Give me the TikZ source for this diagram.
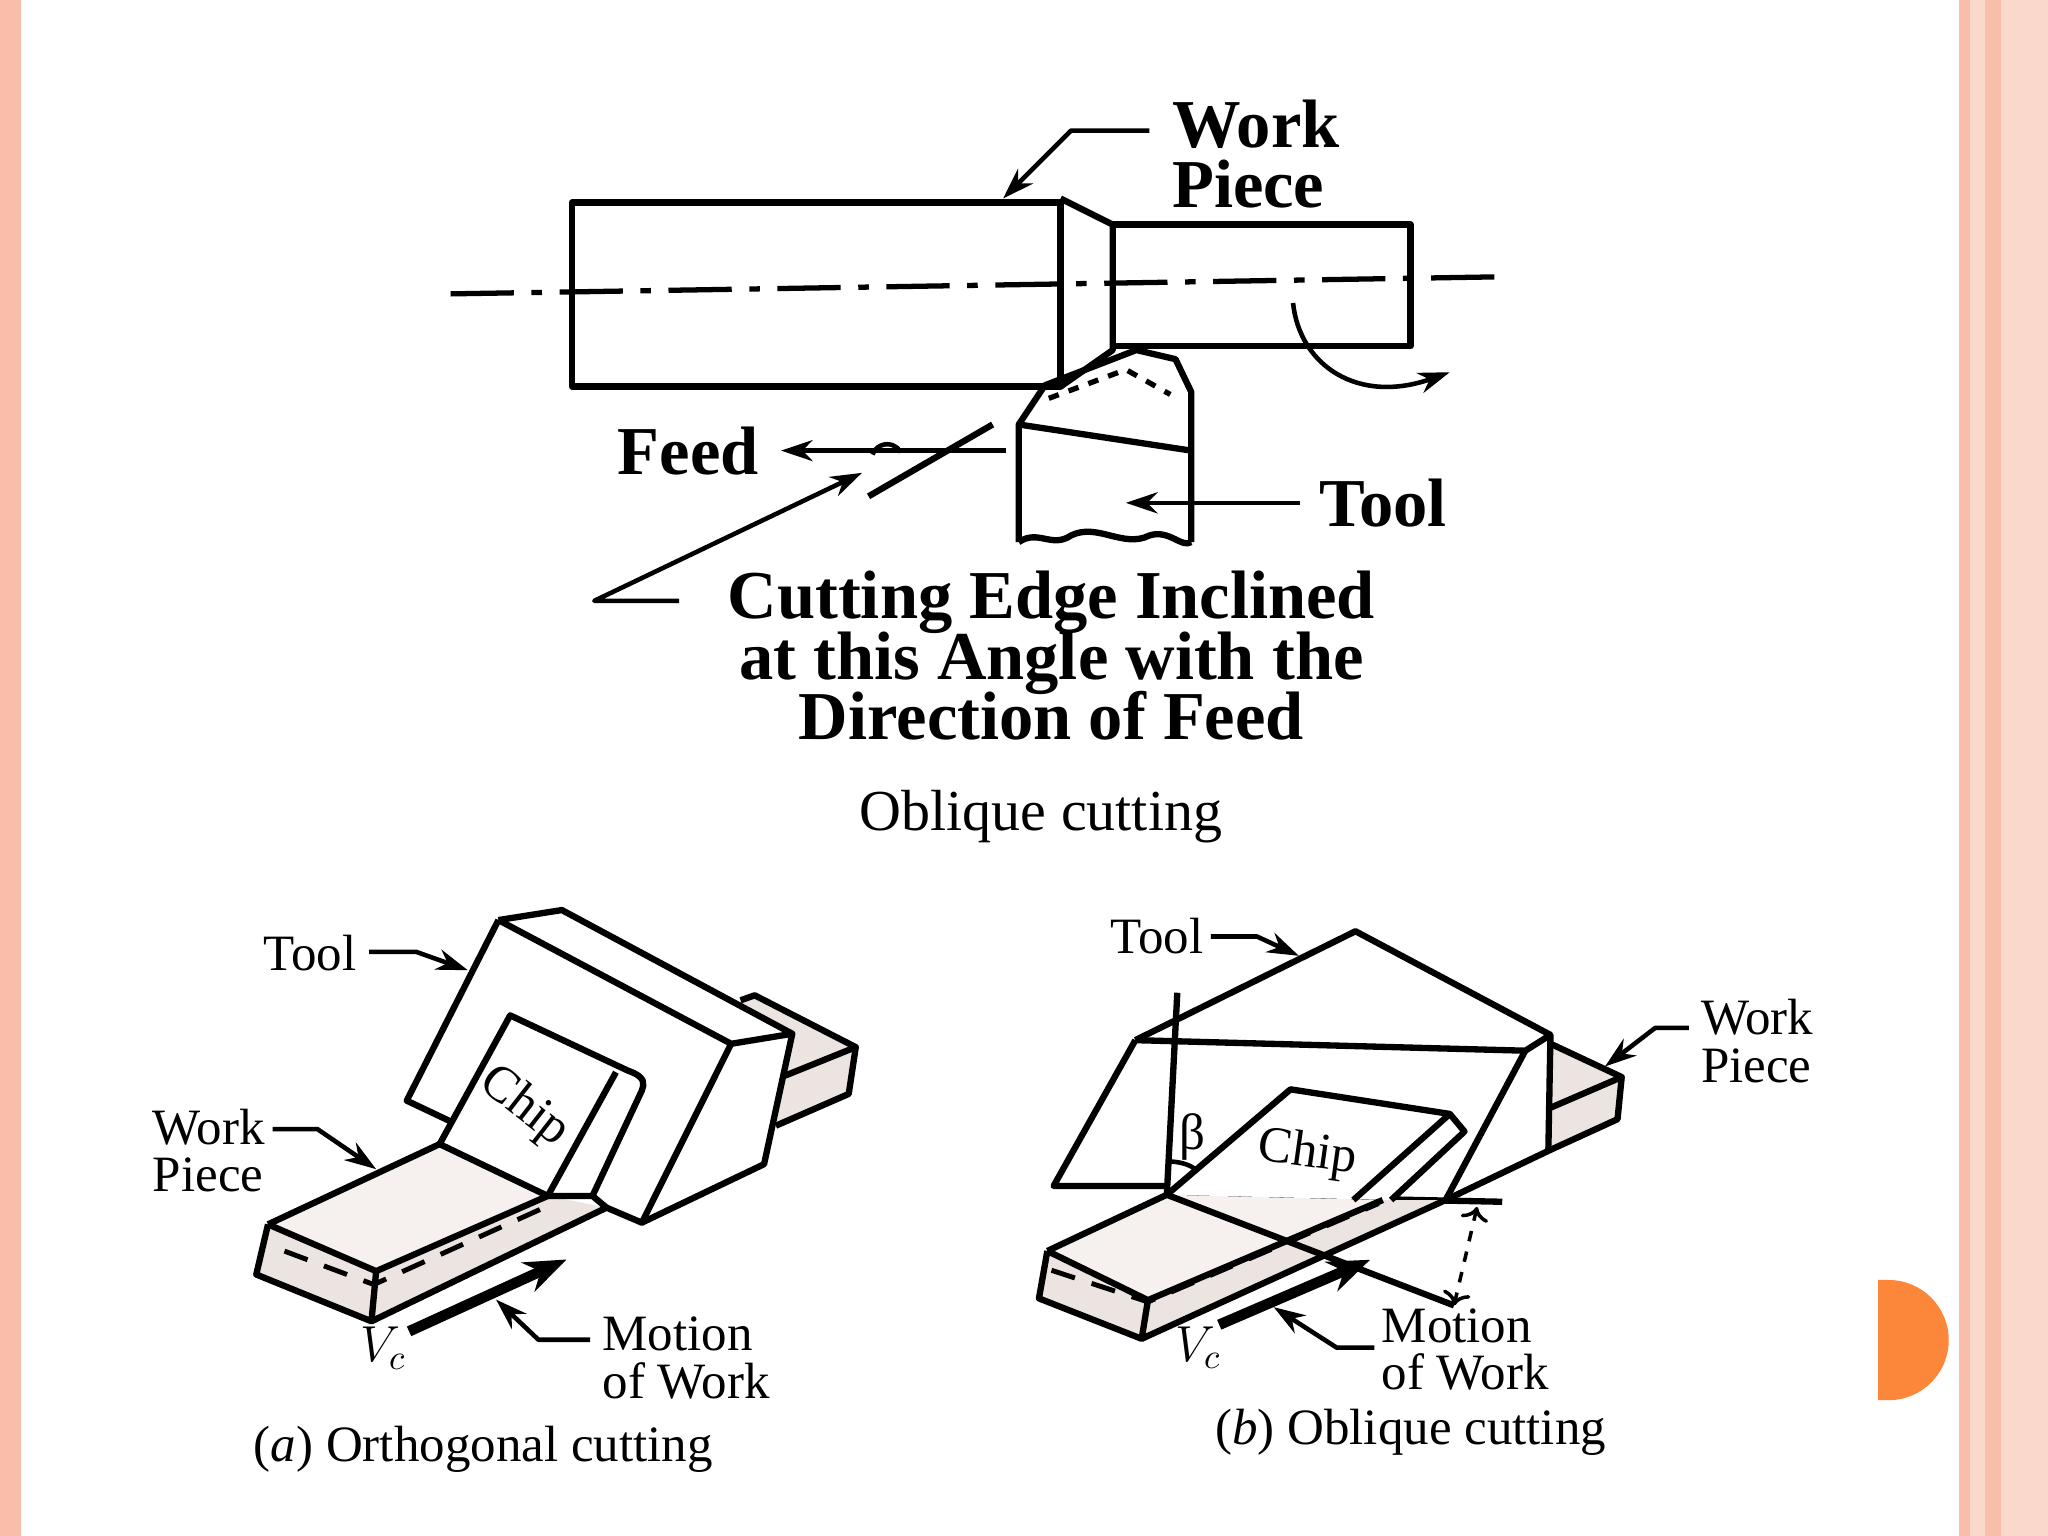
\documentclass[tikz,border=0pt]{standalone}
\usepackage{fontspec}
\setmainfont{Liberation Serif}
\usetikzlibrary{arrows.meta}
\definecolor{salm}{RGB}{248,190,170}
\definecolor{org}{RGB}{252,134,58}
\definecolor{wp}{RGB}{236,228,224}
\newcommand\mytightls{\lineskiplimit=-20pt\relax}
\begin{document}
\begin{tikzpicture}[x=0.01306cm,y=-0.01306cm,line width=1.8pt,line join=round,
  lab/.style={font=\fontsize{14.5}{13.5}\selectfont\mytightls,inner sep=0pt},
  big/.style={font=\bfseries\fontsize{19.5}{17.2}\selectfont\mytightls,inner sep=0pt,align=center},
  ar/.style={-{Stealth[length=9pt,width=6pt]},line width=1.3pt},
  dsh/.style={dash pattern=on 7pt off 5pt,line width=1.4pt}]
\useasboundingbox (0,0) rectangle (1568,1176);
\fill[white] (0,0) rectangle (1568,1176);
\fill[salm] (0,0) rectangle (16,1176);
\fill[salm] (1500,0) rectangle (1508,1176);
\fill[salm!60] (1508,0) rectangle (1520,1176);
\fill[salm] (1520,0) rectangle (1532,1176);
\fill[salm!60] (1532,0) rectangle (1568,1176);
\fill[org] (1438,980) -- (1446,980) arc[start angle=90,end angle=-90,x radius=46,y radius=-46] -- (1438,1072) -- cycle;

% ---------- top figure
\draw (438,155) rectangle (812,296);
\draw (812,152) -- (852,172) -- (852,268) -- (812,296);
\draw (812,152) -- (812,296);
\draw (852,172) rectangle (1080,265);
\draw[line width=1.5pt,dash pattern=on 18pt off 5pt on 3pt off 5pt] (345,225) -- (1145,212);
\draw[ar] (990,232) .. controls (995,280) and (1040,310) .. (1110,285);
% tool
\draw (780,415) -- (780,325) -- (800,295) -- (870,268) -- (900,275) -- (912,300) -- (912,415);
\draw (780,325) -- (912,345);
\draw[dashed,line width=1.5pt] (803,305) -- (862,283) -- (896,302);
\draw (780,415) .. controls (795,405) and (805,420) .. (820,410) .. controls (840,400) and (860,420) .. (880,410) .. controls (895,405) and (905,420) .. (912,415);
% feed
\draw[ar] (770,345) -- (598,345);
\draw (665,380) -- (760,325);
\draw[line width=1.3pt] (668,348) arc[start angle=200,end angle=330,radius=12];
\node[big] (feed) at (527,345) {Feed};
\coordinate (tl) at (995,385);
\draw[ar] (tl) -- (862,385);
\node[big,anchor=west] (tool) at (1008,385) {Tool};
\coordinate (w1) at (880,100); \coordinate (w2) at (820,100);
\draw[ar] (w1) -- (w2) -- (768,152);
\node[big,align=left,anchor=west] (wp) at (895,118) {Work\\Piece};
\coordinate (c1) at (520,460); \coordinate (c2) at (455,460);
\draw[ar] (c1) -- (c2) -- (660,362);
\node[big] (cut) at (805,502) {Cutting Edge Inclined\\at this Angle with the\\Direction of Feed};
\node[font=\fontsize{16.5}{18}\selectfont] (ttl) at (797,625) {Oblique cutting};

% ---------- (a)
\begin{scope}[shift={(113.4,681.4)},xscale=0.36,yscale=0.256]
\fill[wp] (1260,330) -- (1290,315) -- (1505,470) -- (1490,610) -- (1335,705) -- (1355,555) -- cycle;
\draw (1260,330) -- (1290,315) -- (1505,470) -- (1490,610) -- (1335,705);
\draw (1355,555) -- (1505,470);
\fill[white] (745,90) -- (880,60) -- (1370,430) -- (1310,820) -- (1050,995) -- (975,950) -- (640,690) -- (550,630) -- cycle;
\draw (745,90) -- (880,60) -- (1370,430) -- (1310,820) -- (1050,995);
\draw (745,90) -- (1240,460) -- (1370,430);
\draw (1240,460) -- (1050,995) -- (975,950);
\draw (745,90) -- (550,630) -- (640,690);
\fill[wp] (255,1000) -- (230,1150) -- (475,1290) -- (975,950) -- (850,915) -- (485,1140) -- cycle;
\fill[wp!50] (255,1000) -- (620,760) -- (850,915) -- (485,1140) -- cycle;
\draw (620,760) -- (770,375) -- (1020,540) .. controls (1060,560) and (1055,580) .. (1050,600) -- (945,915);
\draw (995,545) -- (850,915);
\draw (255,1000) -- (620,760) -- (850,915) -- (945,915) -- (975,950);
\draw (255,1000) -- (485,1140) -- (850,915);
\draw (255,1000) -- (230,1150) -- (475,1290) -- (485,1140);
\draw (475,1290) -- (975,950);
\draw[dsh] (290,1080) -- (480,1180) -- (850,945);
\draw[line width=3pt,-{Stealth[length=12pt,width=9pt]}] (555,1320) -- (890,1105);
\coordinate (a1) at (470,185); \coordinate (a2) at (570,185);
\draw[ar] (a1) -- (a2) -- (680,240);
\coordinate (a3) at (265,715); \coordinate (a4) at (360,715);
\draw[ar] (a3) -- (a4) -- (485,835);
\coordinate (a5) at (940,1345); \coordinate (a6) at (830,1345);
\draw[ar] (a5) -- (a6) -- (740,1225);
\node[lab,rotate=-38] (chipa) at (800,650) {Chip};
\node[lab,anchor=east] (toola) at (450,190) {Tool};
\node[lab,align=left,anchor=east] (wpa) at (255,780) {Work\\Piece};
\node[lab,align=left,anchor=west] (mota) at (960,1400) {Motion\\of Work};
\node[lab] (vca) at (500,1370) {$V_c$};
\end{scope}
\node[lab] (capa) at (370,1110) {(\textit{a}) Orthogonal cutting};

% ---------- (b)
\begin{scope}[shift={(782.6,695.5)},xscale=0.321,yscale=0.269]
\fill[wp] (1260,385) -- (1430,480) -- (1420,600) -- (1255,690) -- cycle;
\draw (1260,385) -- (1430,480) -- (1420,600) -- (1255,690);
\draw (1255,570) -- (1430,480);
\draw (270,375) -- (795,65) -- (1260,360);
\draw (270,375) -- (1200,405) -- (1260,360) -- (1255,690) -- (1010,830);
\draw (270,375) -- (75,790) -- (345,790);
\draw (1200,405) -- (1010,830);
\draw (345,815) -- (1145,835);
\draw (370,240) -- (345,815);
\draw[line width=1.3pt] (345,720) arc[start angle=-90,end angle=-25,x radius=75,y radius=40];
\fill[wp] (60,975) -- (40,1110) -- (285,1225) -- (1010,830) -- (860,830) -- (300,1115) -- cycle;
\fill[wp!50] (60,975) -- (345,815) -- (860,830) -- (300,1115) -- cycle;
\fill[white] (345,815) -- (640,515) -- (1020,585) -- (1055,635) -- (880,830) -- cycle;
\draw (345,815) -- (640,515) -- (1020,585) -- (1055,635) -- (880,830);
\draw (1020,585) -- (790,830);
\draw (60,975) -- (345,815);
\draw (60,975) -- (300,1115) -- (860,830);
\draw (60,975) -- (40,1110) -- (285,1225) -- (300,1115);
\draw (285,1225) -- (1010,830);
\draw (345,815) -- (1030,1130);
\draw[dashed,line width=1pt,<->] (1085,850) -- (1030,1130);
\draw[dsh] (70,1030) -- (300,1120) -- (850,840);
\draw[line width=3pt,-{Stealth[length=12pt,width=9pt]}] (470,1185) -- (830,1000);
\coordinate (b1) at (450,80); \coordinate (b2) at (560,80);
\draw[ar] (b1) -- (b2) -- (660,135);
\coordinate (b3) at (1590,340); \coordinate (b4) at (1510,340);
\draw[ar] (b3) -- (b4) -- (1390,450);
\coordinate (b5) at (840,1250); \coordinate (b6) at (750,1250);
\draw[ar] (b5) -- (b6) -- (600,1135);
\node[lab,rotate=-8] (chipb) at (680,700) {Chip};
\node[lab] (beta) at (405,650) {β};
\node[lab,anchor=east] (toolb) at (440,80) {Tool};
\node[lab,align=left,anchor=west] (motb) at (850,1255) {Motion\\of Work};
\node[lab] (vcb) at (420,1250) {$V_c$};
\end{scope}
\node[lab,align=left,anchor=west] (wpb) at (1300,797) {Work\\Piece};
\node[lab] (capb) at (1080,1097) {(\textit{b}) Oblique cutting};
\end{tikzpicture}
\end{document}
